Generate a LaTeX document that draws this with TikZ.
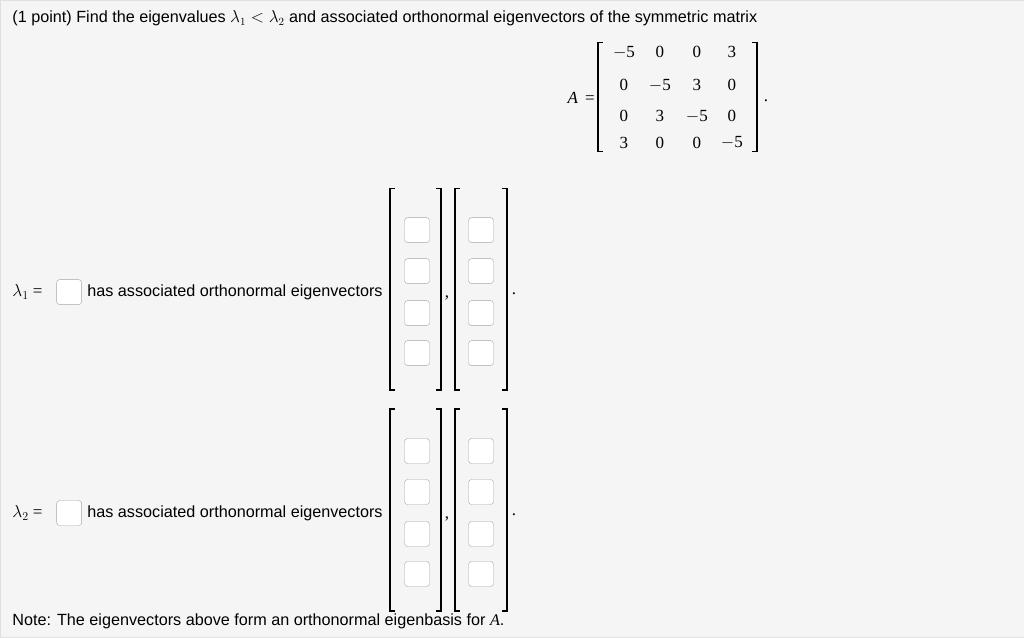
\documentclass[tikz,border=0pt]{standalone}
\usepackage{fontspec}
\setmainfont{Liberation Sans}
\newfontfamily\tm{Liberation Serif}
\begin{document}
\begin{tikzpicture}[x=1pt,y=-1pt,
  txt/.style={inner sep=0pt,anchor=west,font=\fontsize{16.2}{19}\selectfont},
  num/.style={inner sep=0pt,font=\tm\fontsize{17}{19}\selectfont},
  ibox/.style={draw=gray!70,rounded corners=3pt,fill=white,minimum width=25pt,minimum height=25pt,inner sep=0pt},
  brk/.style={line width=1.2pt}]
\path[fill=black!4,draw=black!12] (0,0) rectangle (1024,637);
\useasboundingbox (0,0) rectangle (1024,637);
\node[txt] (title) at (12,18) {(1 point) Find the eigenvalues $\lambda_1 < \lambda_2$ and associated orthonormal eigenvectors of the symmetric matrix};
% matrix
\node[num,anchor=east] (A) at (595,98) {\itshape A\, \upshape=};
\foreach \i/\lab/\x/\y in {11/$-$5/624/52,12/0/660/52,13/0/697/52,14/3/732/52,
 21/0/624/85,22/$-$5/660/85,23/3/697/85,24/0/732/85,
 31/0/624/116,32/3/660/116,33/$-$5/697/116,34/0/732/116,
 41/3/624/143,42/0/660/143,43/0/697/143,44/$-$5/732/143}
 \node[num] (m\i) at (\x,\y) {\lab};
\draw[brk] (603,42) -- (598,42) -- (598,151) -- (603,151);
\draw[brk] (752,42) -- (757,42) -- (757,151) -- (752,151);
\node[num] (dot) at (766,101) {.};
% rows
\foreach \k/\yo in {1/0,2/221}{
 \begin{scope}[yshift=-\yo]
 \node[num,anchor=west] (l\k) at (12,292) {$\lambda_{\k}$ =};
 \node[ibox] (e\k) at (69,292) {};
 \node[txt] (t\k) at (87,292) {has associated orthonormal eigenvectors};
 \draw[brk] (395,188) -- (390,188) -- (390,390) -- (395,390);
 \draw[brk] (436,188) -- (441,188) -- (441,390) -- (436,390);
 \draw[brk] (460,188) -- (455,188) -- (455,390) -- (460,390);
 \draw[brk] (502,188) -- (507,188) -- (507,390) -- (502,390);
 \node[num] (c\k) at (447,298) {,};
 \node[num] (p\k) at (514,294) {.};
 \foreach \j/\yy in {1/230,2/271,3/313,4/353}{
   \node[ibox] (a\k\j) at (417,\yy) {};
   \node[ibox] (b\k\j) at (481,\yy) {};
 }
 \end{scope}}
\node[txt] (note) at (12,621) {Note: The eigenvectors above form an orthonormal eigenbasis for {\tm\itshape A}.};
\end{tikzpicture}
\end{document}
